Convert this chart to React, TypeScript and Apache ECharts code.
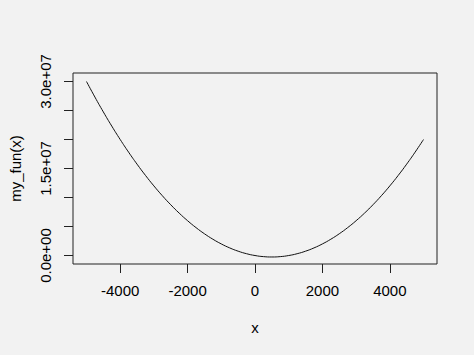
import React, { useEffect, useRef } from "react";
import * as echarts from "echarts";

const xValues: number[] = [
  -5000, -4750, -4500, -4250, -4000, -3750, -3500, -3250, -3000, -2750, -2500,
  -2250, -2000, -1750, -1500, -1250, -1000, -750, -500, -250, 0, 250, 500, 750,
  1000, 1250, 1500, 1750, 2000, 2250, 2500, 2750, 3000, 3250, 3500, 3750, 4000,
  4250, 4500, 4750, 5000,
];
const yValues: number[] = [
  30000000, 27312500, 24750000, 22312500, 20000000, 17812500, 15750000,
  13812500, 12000000, 10312500, 8750000, 7312500, 6000000, 4812500, 3750000,
  2812500, 2000000, 1312500, 750000, 312500, 0, -187500, -250000, -187500, 0,
  312500, 750000, 1312500, 2000000, 2812500, 3750000, 4812500, 6000000,
  7312500, 8750000, 10312500, 12000000, 13812500, 15750000, 17812500, 20000000,
];
const xTicks: number[] = [-4000, -2000, 0, 2000, 4000];
const yTicks: number[] = [0, 5000000, 10000000, 15000000, 20000000, 25000000, 30000000];
const yLabelValues: number[] = [0, 15000000, 30000000];
const yLabelTexts: string[] = ["0.0e+00", "1.5e+07", "3.0e+07"];

const FONT = "'Liberation Sans', Arial, sans-serif";

export default function App() {
  const ref = useRef<HTMLDivElement>(null);
  useEffect(() => {
    document.body.style.margin = "0";
    document.body.style.background = "#f2f2f2";
    const chart = echarts.init(ref.current!, null, { renderer: "svg" });
    chart.setOption({
      animation: false,
      backgroundColor: "#f2f2f2",
      grid: {
        left: 73,
        top: 73,
        width: 364,
        height: 191,
        show: true,
        borderColor: "#222",
        borderWidth: 1,
        backgroundColor: "transparent",
      },
      xAxis: {
        type: "value",
        min: -5400,
        max: 5400,
        position: "bottom",
        name: "x",
        nameLocation: "middle",
        nameGap: 56,
        nameTextStyle: { fontFamily: FONT, fontSize: 15, color: "#000" },
        axisLine: { show: false, onZero: false },
        splitLine: { show: false },
        axisTick: {
          show: true,
          inside: false,
          length: 9,
          customValues: xTicks,
          lineStyle: { color: "#222", width: 1 },
        },
        axisLabel: {
          customValues: xTicks,
          margin: 19,
          fontFamily: FONT,
          fontSize: 15,
          color: "#000",
          formatter: (v: number) => String(v),
        },
      },
      yAxis: {
        type: "value",
        min: -1460000,
        max: 31460000,
        position: "left",
        name: "my_fun(x)",
        nameLocation: "middle",
        nameGap: 50,
        nameRotate: 90,
        nameTextStyle: { fontFamily: FONT, fontSize: 15, color: "#000" },
        axisLine: { show: false, onZero: false },
        splitLine: { show: false },
        axisTick: {
          show: true,
          inside: false,
          length: 9,
          customValues: yTicks,
          lineStyle: { color: "#222", width: 1 },
        },
        axisLabel: {
          customValues: yLabelValues,
          rotate: 90,
          margin: 20,
          fontFamily: FONT,
          fontSize: 15,
          color: "#000",
          formatter: (v: number) => {
            const i = yLabelValues.indexOf(v);
            return i >= 0 ? yLabelTexts[i] : "";
          },
        },
      },
      series: [
        {
          type: "line",
          data: xValues.map((x, i) => [x, yValues[i]]),
          showSymbol: false,
          smooth: true,
          lineStyle: { color: "#111", width: 1 },
        },
      ],
    });
    return () => chart.dispose();
  }, []);
  return <div ref={ref} style={{ width: 474, height: 355 }} />;
}
